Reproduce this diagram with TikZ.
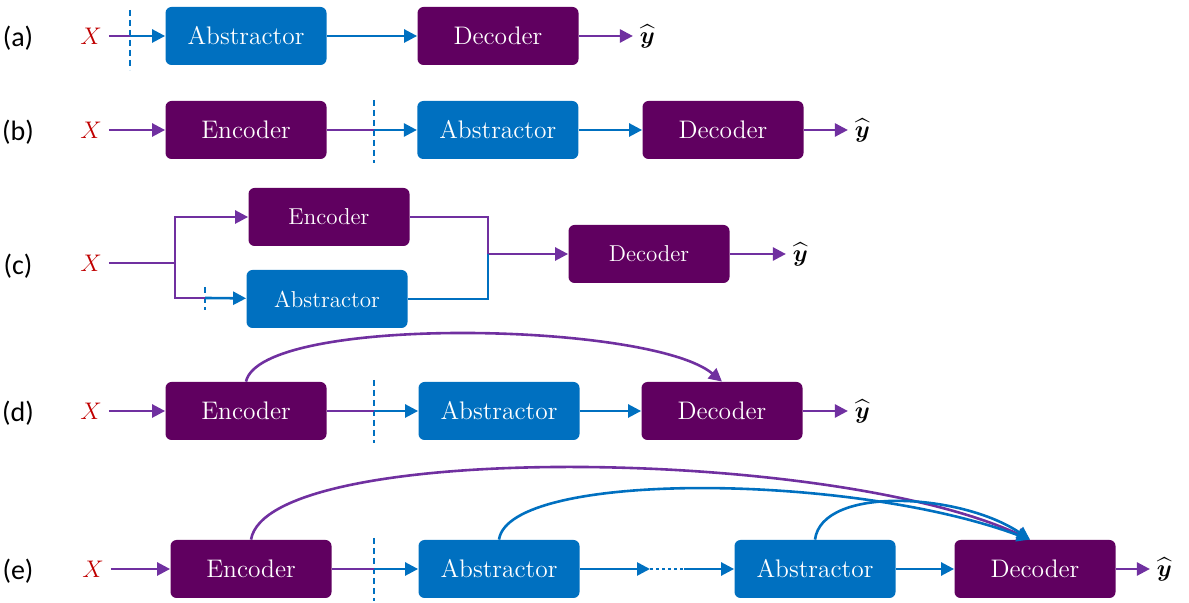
\documentclass[tikz,border=0pt]{standalone}
\usepackage{amsmath}
\usepackage{amssymb}
\usepackage{fontspec}
\newfontfamily\labelfont{Carlito}
\usepackage{tikz}
\usetikzlibrary{
	arrows.meta,
	positioning
}

\definecolor{abs-blue}{HTML}{0070C0}
\definecolor{coder-purple}{HTML}{600060}
\definecolor{arrow-purple}{HTML}{7030A0}
\definecolor{input-red}{HTML}{C00000}

\begin{document}
\begin{tikzpicture} [
		x = 0.5pt,
		y = -0.5pt,
		block/.style = {
			rectangle,
			rounded corners = 3pt,
			minimum width = 80.5pt,
			minimum height = 29pt,
			text = white,
			font = \fontsize{12.7}{14}\selectfont
		},
		abstractor/.style = {
			block,
			fill = abs-blue
		},
		coder/.style = {
			block,
			fill = coder-purple
		},
		row-label/.style = {
			font = \labelfont\fontsize{14}{16}\selectfont
		},
		input/.style = {
			text = input-red,
			font = \fontsize{13}{15}\selectfont
		},
		output/.style = {
			font = \fontsize{13}{15}\selectfont
		},
		line/.style = {
			draw,
			line width = 1.3pt,
			-{Triangle[length = 6.5pt, width = 6.5pt]}
		},
		wire/.style = {
			draw,
			line width = 1.3pt
		},
		cut/.style = {
			draw = abs-blue,
			line width = 1.2pt,
			dash pattern = on 3pt off 2pt
		}
	]
	\useasboundingbox (0,0) rectangle (1189,603);

	% (a)
	\node[row-label] (la) at (18,38) {(a)};
	\node[input] (xa) at (91,36) {$X$};
	\coordinate (cuta) at (130,36);
	\node[abstractor] (absa) at (246,36) {Abstractor};
	\node[coder] (deca) at (498,36) {Decoder};
	\node[output, right = 27pt of deca] (ya) {$\widehat{\boldsymbol{y}}$};

	% (b)
	\node[row-label] (lb) at (18,132) {(b)};
	\node[input] (xb) at (91,130) {$X$};
	\node[coder] (encb) at (246,130) {Encoder};
	\coordinate (cutb) at (374,130);
	\node[abstractor, right = 45pt of encb] (absb) {Abstractor};
	\node[coder] (decb) at (723,130) {Decoder};
	\node[output, right = 22pt of decb] (yb) {$\widehat{\boldsymbol{y}}$};

	% (c)
	\node[row-label] (lc) at (18,266) {(c)};
	\node[input] (xc) at (91,263) {$X$};
	\coordinate (splitc) at (175,263);
	\coordinate (cutc) at (205,298);
	\node[coder, font = \fontsize{11.5}{13}\selectfont] (encc) at (329,217) {Encoder};
	\node[abstractor, font = \fontsize{11.5}{13}\selectfont] (absc) at (327,299) {Abstractor};
	\coordinate (mergec) at (488,254);
	\node[coder, font = \fontsize{11.5}{13}\selectfont] (decc) at (649,254) {Decoder};
	\node[output, right = 28pt of decc] (yc) {$\widehat{\boldsymbol{y}}$};

	% (d)
	\node[row-label] (ld) at (18,413) {(d)};
	\node[input] (xd) at (91,411) {$X$};
	\node[coder] (encd) at (246,411) {Encoder};
	\coordinate (cutd) at (374,411);
	\node[abstractor] (absd) at (499,411) {Abstractor};
	\node[coder] (decd) at (722,411) {Decoder};
	\node[output, right = 22.5pt of decd] (yd) {$\widehat{\boldsymbol{y}}$};

	% (e)
	\node[row-label] (le) at (18,571) {(e)};
	\node[input] (xe) at (93,569) {$X$};
	\node[coder] (ence) at (251,569) {Encoder};
	\coordinate (cute) at (374,569);
	\node[abstractor] (abse1) at (499,569) {Abstractor};
	\coordinate (dotse1) at (650,569);
	\coordinate (dotse2) at (684,569);
	\node[abstractor] (abse2) at (815,569) {Abstractor};
	\node[coder] (dece) at (1035,569) {Decoder};
	\node[output, right = 17pt of dece] (ye) {$\widehat{\boldsymbol{y}}$};

	% cuts
	\draw[cut] (cuta) ++(0,-26) -- ++(0,60);
	\draw[cut] (cutb) ++(0,-30) -- ++(0,63);
	\draw[cut] (cutc) ++(0,-11) -- ++(0,23);
	\draw[cut] (cutd) ++(0,-31) -- ++(0,63);
	\draw[cut] (cute) ++(0,-31) -- ++(0,63);

	\begin{scope} [
			every path/.style = wire, arrow-purple
		]
		\path (xa) -- (cuta);
		\path (encb) -- (cutb);
		\path (xc) -- (splitc);
		\path (splitc) |- (cutc);
		\path (encc) -| (mergec);
		\path (encd) -- (cutd);
		\path (ence) -- (cute);
	\end{scope}

	\begin{scope} [
			every path/.style = line, arrow-purple
		]
		\path (deca) -- (ya);
		\path (xb) -- (encb);
		\path (decb) -- (yb);
		\path (splitc) |- (encc);
		\path (mergec) -- (decc);
		\path (decc) -- (yc);
		\path (xd) -- (encd);
		\path (decd) -- (yd);
		\path (xe) -- (ence);
		\path (dece) -- (ye);
		\path (encd.north) .. controls +(15,-67) and +(-72,-60) .. (decd.north);
		\path (ence.north) .. controls +(17,-99) and +(-200,-93) .. ([xshift = -2.5pt]dece.north);
	\end{scope}

	\begin{scope} [
			every path/.style = wire, abs-blue
		]
		\path (absc) -| (mergec);
		\path[line width = 1.2pt, dash pattern = on 1.5pt off 1.5pt] (dotse1) -- (dotse2);
	\end{scope}

	\begin{scope} [
			every path/.style = line, abs-blue
		]
		\path (cuta) -- (absa);
		\path (absa) -- (deca);
		\path (cutb) -- (absb);
		\path (absb) -- (decb);
		\path (cutc) -- (absc);
		\path (cutd) -- (absd);
		\path (absd) -- (decd);
		\path (cute) -- (abse1);
		\path (abse1) -- (dotse1);
		\path (dotse2) -- (abse2);
		\path (abse2) -- (dece);
		\path (abse1.north) .. controls +(10,-69) and +(-180,-67) .. ([xshift = -2.5pt]dece.north);
		\path (abse2.north) .. controls +(7,-54) and +(-70,-47) .. ([xshift = -2.5pt]dece.north);
	\end{scope}
\end{tikzpicture}
\end{document}
